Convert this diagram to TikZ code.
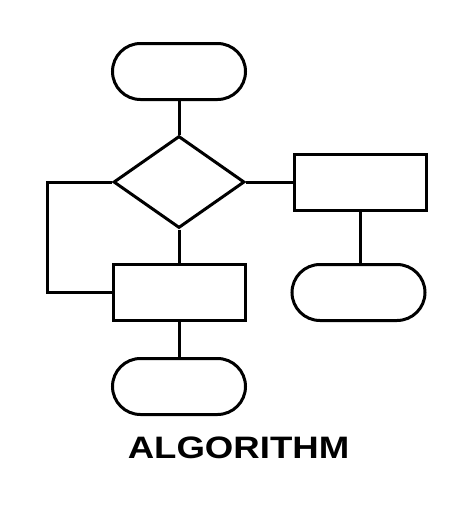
\documentclass[tikz,border=0pt]{standalone}
\usepackage{fontspec}
\setmainfont{Liberation Sans}
\usetikzlibrary{shapes.geometric}

\begin{document}
\begin{tikzpicture}[x=1pt,y=-1pt,line width=3pt,
  term/.style={draw,rectangle,rounded corners=28pt,minimum width=133pt,minimum height=56pt,inner sep=0pt},
  box/.style={draw,rectangle,minimum width=132pt,minimum height=56pt,inner sep=0pt},
  dec/.style={draw,diamond,minimum width=131pt,minimum height=92pt,inner sep=0pt}]
\useasboundingbox (0,0) rectangle (474,507);
\node[term] (start) at (179,71.5) {};
\node[dec] (cond) at (179,182) {};
\node[box] (side) at (360,182) {};
\node[term] (sideend) at (358.5,292.5) {};
\node[box] (proc) at (179,292) {};
\node[term] (stop) at (179,386.5) {};
\coordinate (loop) at (47,292);
\draw (start) -- (cond);
\draw (cond) -- (proc);
\draw (proc) -- (stop);
\draw (cond) -- (side);
\draw (side.south) -- (sideend.north -| side.south);
\draw (cond.west) -| (loop) -- (proc.west);
\node[anchor=base,inner sep=0pt] (title) at (238.5,458) {\scalebox{1.18}[1]{\fontsize{31}{31}\selectfont\bfseries ALGORITHM}};
\end{tikzpicture}
\end{document}
